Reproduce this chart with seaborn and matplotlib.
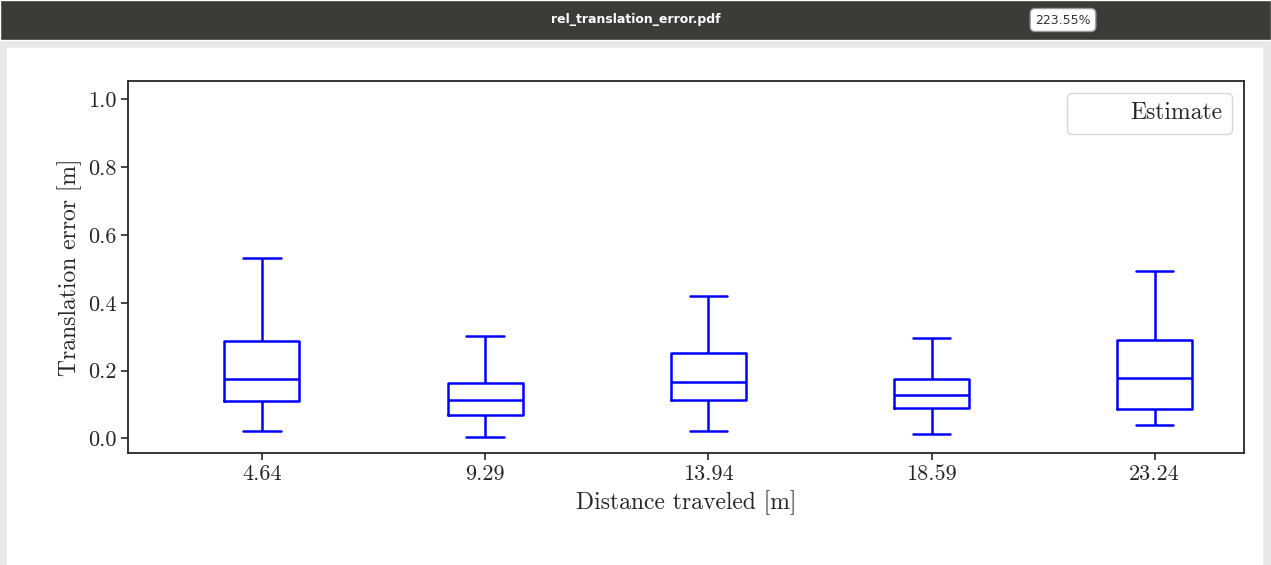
import numpy as np
import pandas as pd
import seaborn as sns
from matplotlib import pyplot as plt
from matplotlib.lines import Line2D
from matplotlib.patches import Rectangle

# Box statistics: whisker low, Q1, median, Q3, whisker high
distances = ['4.64', '9.29', '13.94', '18.59', '23.24']
lows = [0.021, 0.005, 0.021, 0.013, 0.039]
q1s = [0.110, 0.069, 0.112, 0.089, 0.086]
medians = [0.174, 0.114, 0.166, 0.128, 0.179]
q3s = [0.287, 0.162, 0.251, 0.175, 0.290]
highs = [0.533, 0.302, 0.419, 0.295, 0.493]

# five points per group reproduce these quartiles exactly
rows = []
for d, a, b, c, e, f in zip(distances, lows, q1s, medians, q3s, highs):
    for v in (a, b, c, e, f):
        rows.append({'distance': d, 'error': v})
df = pd.DataFrame(rows)

sns.set_style('ticks')
plt.rcParams['font.family'] = 'serif'
plt.rcParams['font.serif'] = ['cmr10', 'DejaVu Serif']
plt.rcParams['axes.formatter.use_mathtext'] = True
plt.rcParams['mathtext.fontset'] = 'cm'

fig = plt.figure(figsize=(12.71, 5.65), dpi=100)
fig.patch.set_facecolor('#e8e8e7')
# viewer chrome
fig.patches.append(Rectangle((0, 1 - 40 / 565), 1, 40 / 565, transform=fig.transFigure,
                             facecolor='#3c3b37', zorder=-2))
fig.patches.append(Rectangle((7 / 1271, 0), 1255 / 1271, 1 - 48 / 565, transform=fig.transFigure,
                             facecolor='white', zorder=-2))
fig.text(0.5, 1 - 20 / 565, 'rel_translation_error.pdf', color='white', ha='center', va='center',
         fontsize=9, family='DejaVu Sans', weight='bold')
fig.text(1063 / 1271, 1 - 20 / 565, '223.55%', color='#333333', ha='center', va='center',
         fontsize=9, family='DejaVu Sans',
         bbox=dict(boxstyle='round,pad=0.4', fc='white', ec='#999999'))

ax = fig.add_axes([128 / 1271, 1 - 453 / 565, 1116 / 1271, 372 / 565])
ax.set_zorder(2)
sns.boxplot(data=df, x='distance', y='error', order=distances, whis=np.inf, fill=False,
            color='blue', width=0.336, linewidth=1.8, ax=ax)
ax.set_xlim(-0.6, 4.4)
ax.set_ylim(-0.043, 1.054)
ax.set_yticks([0.0, 0.2, 0.4, 0.6, 0.8, 1.0])
ax.set_yticklabels(['0.0', '0.2', '0.4', '0.6', '0.8', '1.0'])
ax.tick_params(labelsize=16, width=1.2, length=5)
ax.set_xlabel('Distance traveled [m]', fontsize=17)
ax.set_ylabel('Translation error [m]', fontsize=17)
for s in ax.spines.values():
    s.set_linewidth(1.3)
    s.set_visible(True)
handle = Line2D([], [], color='none')
ax.legend([handle], ['Estimate'], loc='upper right', fontsize=17, handlelength=1.5,
          frameon=True, fancybox=True, edgecolor='#cccccc')

plt.savefig('out.png', dpi=100, facecolor=fig.get_facecolor())
plt.close()
